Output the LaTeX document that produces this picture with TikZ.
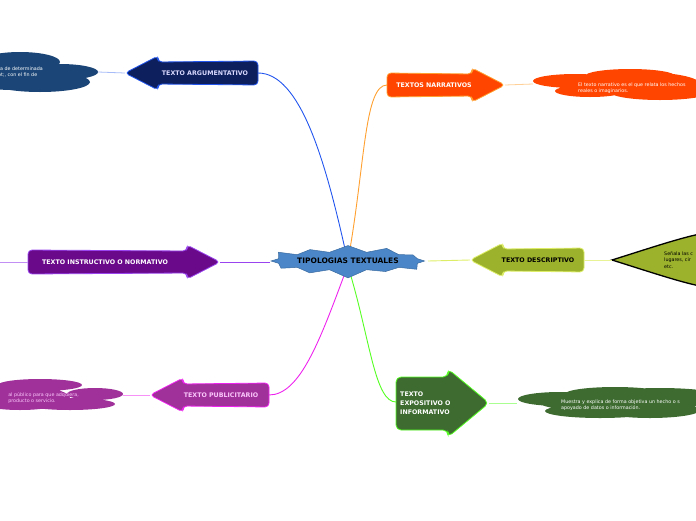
\documentclass[tikz,border=0pt]{standalone}
\usepackage{fontspec}
\setmainfont{DejaVu Sans}
\usetikzlibrary{shapes.symbols}
\definecolor{argf}{HTML}{0D1F5C}\definecolor{argd}{HTML}{2255EE}\definecolor{argc}{HTML}{1A4576}
\definecolor{narf}{HTML}{FF4500}\definecolor{nard}{HTML}{FFA030}
\definecolor{desf}{HTML}{9CB22C}\definecolor{desd}{HTML}{DDEE66}
\definecolor{insf}{HTML}{6A0A8A}\definecolor{insd}{HTML}{9944EE}
\definecolor{pubf}{HTML}{A0309A}\definecolor{pubd}{HTML}{EE22EE}
\definecolor{expf}{HTML}{3D6B30}\definecolor{expd}{HTML}{55FF22}
\definecolor{cen}{HTML}{4A86C8}
\newcommand\LArrow[6]{% tipx tailx y fill draw name
 \path[fill=#4,draw=#5,line width=0.8pt,rounded corners=4pt]
 (#1,#3) -- (#1+33,#3-17) -- (#1+33,#3-11) -- (#2,#3-12) -- (#2,#3+12) -- (#1+33,#3+11) -- (#1+33,#3+17) -- cycle;
 \coordinate (#6L) at (#1,#3); \coordinate (#6R) at (#2,#3);}
\newcommand\RArrow[6]{% tailx tipx y fill draw name
 \path[fill=#4,draw=#5,line width=0.8pt,rounded corners=4pt]
 (#2,#3) -- (#2-33,#3-17) -- (#2-33,#3-11) -- (#1,#3-12) -- (#1,#3+12) -- (#2-33,#3+11) -- (#2-33,#3+17) -- cycle;
 \coordinate (#6L) at (#1,#3); \coordinate (#6R) at (#2,#3);}
\tikzset{lbl/.style={font=\fontsize{6.3}{7.5}\selectfont\bfseries,inner sep=0pt},
 small/.style={font=\fontsize{4.8}{6.6}\selectfont,inner sep=0pt,align=left},
 con/.style={line width=0.9pt}, lnk/.style={line width=0.8pt}}
\begin{document}
\begin{tikzpicture}[x=1pt,y=-1pt]
\useasboundingbox (0,0) rectangle (696,520);
\clip (0,0) rectangle (696,520);
% clouds
\fill[argc] (20,62) ellipse (40 and 10) (60,72) ellipse (38 and 8) (40,82) ellipse (50 and 10) (10,74) ellipse (40 and 16);
\node[small,text=white,anchor=west] (argt) at (-2,72) {ra de determinada\\ot;, con el fin de};
\fill[narf] (575,81) ellipse (42 and 7) (630,76) ellipse (45 and 7) (660,92) ellipse (50 and 8) (590,91) ellipse (35 and 6) (640,84) ellipse (60 and 12);
\node[small,text=white,anchor=west] (nart) at (578,88) {El texto narrativo es el que relata los hechos\\reales o imaginarios.};
\path[fill=desf,draw=black,line width=1.3pt] (612,260) .. controls (650,248) and (680,238) .. (700,234) -- (700,286) .. controls (680,282) and (650,272) .. (612,260) -- cycle;
\node[small,text=black,anchor=west] (dest) at (664,260) {Señala las c\\lugares, cir\\etc.};
\fill[pubf] (40,385) ellipse (42 and 6) (95,394) ellipse (28 and 6) (70,404) ellipse (45 and 6) (20,398) ellipse (50 and 12);
\node[small,text=pubd!25,anchor=east] (pubt) at (79,398) {al público para que adquiera,\\producto o servicio.};
\fill[expf] (560,399) ellipse (42 and 7) (615,394) ellipse (50 and 7) (660,396) ellipse (60 and 8) (600,411) ellipse (55 and 7) (650,410) ellipse (50 and 8) (620,403) ellipse (80 and 9);
\node[small,text=white,anchor=west] (expt) at (561,405) {Muestra y explica de forma objetiva un hecho o s\\apoyado de datos o información.};
% arrows
\LArrow{125}{258}{73}{argf}{argd}{arg}
\node[lbl,text=white!85!blue] (argn) at (205,73) {TEXTO ARGUMENTATIVO};
\RArrow{387}{505}{85}{narf}{nard}{nar}
\node[lbl,text=white] (narn) at (434,85) {TEXTOS NARRATIVOS};
\LArrow{470}{584}{260}{desf}{desd}{des}
\node[lbl,text=black] (desn) at (538,260) {TEXTO DESCRIPTIVO};
\RArrow{28}{220}{262}{insf}{insd}{ins}
\node[lbl,text=white] (insn) at (105,262) {TEXTO INSTRUCTIVO O NORMATIVO};
\LArrow{150}{269}{395}{pubf}{pubd}{pub}
\node[lbl,text=pubd!25] (pubn) at (221,395) {TEXTO PUBLICITARIO};
\path[fill=expf,draw=expd,line width=0.8pt,rounded corners=5pt]
 (489,403) -- (448,369) -- (448,377) -- (396,377) -- (396,430) -- (448,430) -- (448,437) -- cycle;
\coordinate (expL) at (396,402); \coordinate (expR) at (489,403);
\node[lbl,text=white,align=left,anchor=west,font=\fontsize{6.3}{9}\selectfont\bfseries] (expn) at (400,403) {TEXTO\\EXPOSITIVO O\\INFORMATIVO};
% connectors
\coordinate (c1) at (345,249); \coordinate (c2) at (350,249); \coordinate (c3) at (345,273); \coordinate (c4) at (350,273);
\coordinate (cE) at (428,261); \coordinate (cW) at (270,262);
\draw[con,argd] (c1) .. controls (325,160) and (300,73) .. (argR);
\draw[con,nard] (c2) .. controls (365,160) and (365,85) .. (narL);
\draw[con,desd] (cE) -- (desL);
\draw[con,insd] (cW) -- (insR);
\draw[con,pubd] (c3) .. controls (320,340) and (300,395) .. (pubR);
\draw[con,expd] (c4) .. controls (370,340) and (375,402) .. (expL);
% center
\node[starburst,starburst points=12,starburst point height=9pt,fill=cen,draw=cen!80!black,line width=0.5pt,minimum width=160pt,minimum height=36pt,inner sep=0pt,font=\fontsize{7.5}{9}\selectfont\bfseries] (c) at (348,261) {TIPOLOGIAS TEXTUALES};
\coordinate (argC) at (98,72); \coordinate (narC) at (533,84); \coordinate (desC) at (612,260);
\coordinate (insC) at (0,262); \coordinate (pubC) at (123,395); \coordinate (expC) at (517,403);
\draw[lnk,argd!40] (argL) -- (argC);
\draw[lnk,nard!50] (narR) -- (narC);
\draw[lnk,desd!70] (desR) -- (desC);
\draw[lnk,insd!60] (insL) -- (insC);
\draw[lnk,pubd!50] (pubL) -- (pubC);
\draw[lnk,expd!50] (expR) -- (expC);
\end{tikzpicture}
\end{document}
